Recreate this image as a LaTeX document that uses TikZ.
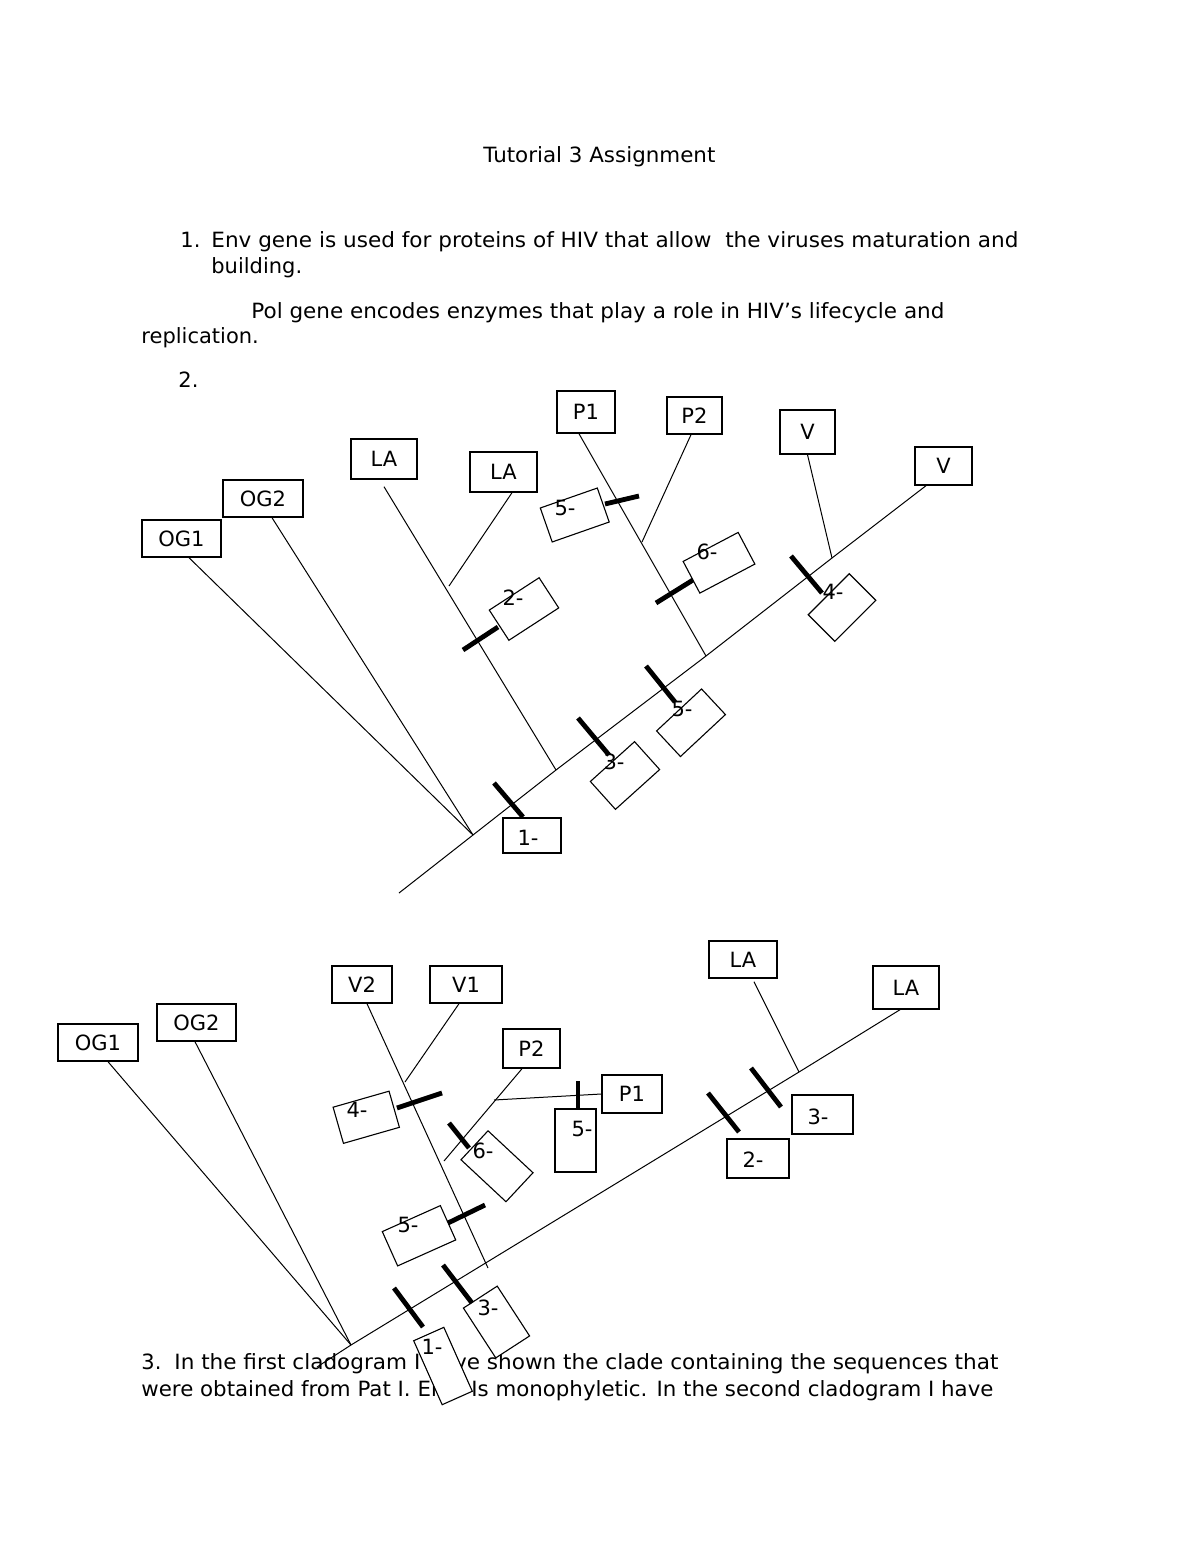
\documentclass[tikz,border=0pt]{standalone}
\usepackage{fontspec}
\setmainfont{DejaVu Sans}
\newcommand\myfs{\fontsize{10.5pt}{12pt}\selectfont}
\tikzset{
  lbl/.style={draw, line width=0.7pt, fill=white, inner sep=0pt, font=\myfs},
  rbox/.style={draw, line width=0.55pt, fill=white, inner sep=0pt},
  num/.style={inner sep=0pt, font=\myfs},
  branch/.style={line width=0.5pt},
  tick/.style={line width=2.4pt},
  body/.style={anchor=base west, inner sep=0pt, font=\myfs},
}
\begin{document}
\begin{tikzpicture}[x=0.5pt,y=-0.5pt]
\useasboundingbox (0,0) rectangle (1200,1553);
\fill[white] (0,0) rectangle (1200,1553);

% ---------- text ----------
\node[body] (t0) at (483,162) {\resizebox{116pt}{\height}{Tutorial 3 Assignment}};
\node[body] (n1) at (180,247) {1.};
\node[body] (l1) at (211,247) {\resizebox{403.5pt}{\height}{Env gene is used for proteins of HIV that allow\ \ the viruses maturation and}};
\node[body] (l2) at (211,273) {building.};
\node[body] (l3) at (251,318) {\resizebox{346.5pt}{\height}{Pol gene encodes enzymes that play a role in HIV’s lifecycle and}};
\node[body] (l4) at (141,343) {replication.};
\node[body] (n2) at (178,387) {2.};
\node[body] (n3) at (141,1369) {3.};
\node[body] (l5) at (174,1369) {\resizebox{412pt}{\height}{In the first cladogram I have shown the clade containing the sequences that}};
\node[body] (l6) at (141,1396) {\resizebox{426pt}{\height}{were obtained from Pat I. Env. Is monophyletic. In the second cladogram I have}};

% ---------- cladogram 1 ----------
\node[lbl, minimum width=39.5pt, minimum height=18.5pt] (og1a) at (181.5,538.5) {OG1};
\node[lbl, minimum width=40pt, minimum height=18.5pt] (og2a) at (263,498.5) {OG2};
\node[lbl, minimum width=33pt, minimum height=20pt] (la1a) at (384,459) {LA};
\node[lbl, minimum width=33.5pt, minimum height=20pt] (la2a) at (503.5,472) {LA};
\node[lbl, minimum width=29pt, minimum height=21pt] (p1a) at (586,412) {P1};
\node[lbl, minimum width=27.5pt, minimum height=18.5pt] (p2a) at (694.5,415.5) {P2};
\node[lbl, minimum width=27.5pt, minimum height=22pt] (v1a) at (807.5,432) {V};
\node[lbl, minimum width=28.5pt, minimum height=19pt] (v2a) at (943.5,466) {V};

\coordinate (ra) at (399,893);
\coordinate (ja) at (473,835);
\coordinate (jla) at (556,770);
\coordinate (jla2) at (449,586);
\coordinate (jp) at (706,656);
\coordinate (jp2) at (642,542);
\coordinate (jv) at (832,558);

\draw[branch] (ra) -- (ja) -- (jla) -- (jp) -- (jv) -- ([xshift=-8.75pt]v2a.south);
\draw[branch] ([xshift=3.75pt]og1a.south) -- (ja);
\draw[branch] ([xshift=4.5pt]og2a.south) -- (ja);
\draw[branch] ([yshift=-3.5pt]la1a.south) -- (jla);
\draw[branch] ([xshift=4.25pt]la2a.south) -- (jla2);
\draw[branch] ([xshift=-3.5pt]p1a.south) -- (jp);
\draw[branch] ([xshift=-1.75pt]p2a.south) -- (jp2);
\draw[branch] (v1a.south) -- (jv);

\node[lbl, minimum width=29pt, minimum height=17.5pt] (c1a) at (532,835.5) {};
\node[num] (c1at) at (528,838) {1-};
\node[rbox, rotate=33, minimum width=29.7pt, minimum height=18pt] (b2a) at (524,609) {};
\node[num] (b2at) at (513,598) {2-};
\node[rbox, rotate=19.3, minimum width=30.2pt, minimum height=18pt] (b5a) at (574.75,515) {};
\node[num] (b5at) at (565,508) {5-};
\node[rbox, rotate=27.8, minimum width=31.1pt, minimum height=17.9pt] (b6a) at (719,562.75) {};
\node[num] (b6at) at (707,552) {6-};
\node[rbox, rotate=45, minimum width=29pt, minimum height=18.75pt] (b4a) at (842,607.5) {};
\node[num] (b4at) at (833,592) {4-};
\node[rbox, rotate=43, minimum width=30.75pt, minimum height=17.5pt] (b5b) at (691,722.75) {};
\node[num] (b5bt) at (682,709) {5-};
\node[rbox, rotate=42, minimum width=29.75pt, minimum height=18.75pt] (b3a) at (625,775.5) {};
\node[num] (b3at) at (614,762) {3-};

\draw[tick] (494,783) -- (523,817);
\draw[tick] (578,718) -- (609,755);
\draw[tick] (646,666) -- (675,702);
\draw[tick] (791,556) -- (822,593);
\draw[tick] (463,650) -- (498,627);
\draw[tick] (656,603) -- (693,580);
\draw[tick] (605,504) -- (639,496);

% ---------- cladogram 2 ----------
\node[lbl, minimum width=40pt, minimum height=18.5pt] (og1b) at (98,1042.5) {OG1};
\node[lbl, minimum width=39.5pt, minimum height=18.5pt] (og2b) at (196.5,1022.5) {OG2};
\node[lbl, minimum width=30pt, minimum height=18.5pt] (v2b) at (362,984.5) {V2};
\node[lbl, minimum width=36pt, minimum height=18.5pt] (v1b) at (466,984.5) {V1};
\node[lbl, minimum width=28.5pt, minimum height=19.5pt] (p2b) at (531.5,1048.5) {P2};
\node[lbl, minimum width=30pt, minimum height=19pt] (p1b) at (632,1094) {P1};
\node[lbl, minimum width=34pt, minimum height=18.5pt] (la1b) at (743,959.5) {LA};
\node[lbl, minimum width=33pt, minimum height=21.5pt] (la2b) at (906,987.5) {LA};

\coordinate (rb) at (317,1367);
\coordinate (kb) at (351,1345);
\coordinate (kv) at (488,1268);
\coordinate (kv1) at (405,1082);
\coordinate (kp1) at (494,1100);
\coordinate (kp2) at (444,1161);
\coordinate (kla) at (799,1072);

\draw[branch] (rb) -- (kb) -- (kla) -- ([xshift=-3pt]la2b.south);
\draw[branch] ([xshift=5pt]og1b.south) -- (kb);
\draw[branch] ([xshift=-0.75pt]og2b.south) -- (kb);
\draw[branch] ([xshift=2.5pt]v2b.south) -- (kv);
\draw[branch] ([xshift=-3.5pt]v1b.south) -- (kv1);
\draw[branch] ([xshift=-4.75pt]p2b.south) -- (kp2);
\draw[branch] (p1b.west) -- (kp1);
\draw[branch] ([xshift=5.5pt,yshift=-1.5pt]la1b.south) -- (kla);

\node[lbl, minimum width=30.5pt, minimum height=19.5pt] (c3b) at (822.5,1114.5) {};
\node[num] (c3bt) at (818,1117) {3-};
\node[lbl, minimum width=31pt, minimum height=19.5pt] (c2b) at (758,1158.5) {};
\node[num] (c2bt) at (753,1160) {2-};
\node[lbl, minimum width=20.5pt, minimum height=31.5pt] (c5b) at (575.5,1140.5) {};
\node[num] (c5bt) at (582,1129) {5-};
\node[rbox, rotate=16, minimum width=29.1pt, minimum height=18.8pt] (b4b) at (366.25,1117.25) {};
\node[num] (b4bt) at (357,1110) {4-};
\node[rbox, rotate=-43, minimum width=30.75pt, minimum height=19.8pt] (b6b) at (497,1166.25) {};
\node[num] (b6bt) at (483,1151) {6-};
\node[rbox, rotate=24.1, minimum width=31.8pt, minimum height=18.8pt] (b5b2) at (419,1235.75) {};
\node[num] (b5b2t) at (408,1225) {5-};
\node[rbox, rotate=-57, minimum width=29.7pt, minimum height=20.15pt] (b3b) at (496.5,1322) {};
\node[num] (b3bt) at (488,1308) {3-};
\node[rbox, rotate=-66, minimum width=35pt, minimum height=16.5pt] (b1b) at (443,1366) {};
\node[num] (b1bt) at (432,1347) {1-};

\draw[tick] (397,1108) -- (442,1093);
\draw[tick] (449,1123) -- (469,1148);
\draw[tick] (448,1223) -- (485,1205);
\draw[tick] (394,1288) -- (423,1327);
\draw[tick] (443,1265) -- (472,1303);
\draw[tick] (708,1093) -- (739,1132);
\draw[tick] (751,1068) -- (781,1107);
\draw[tick] (578,1081) -- (578,1108);
\end{tikzpicture}
\end{document}
